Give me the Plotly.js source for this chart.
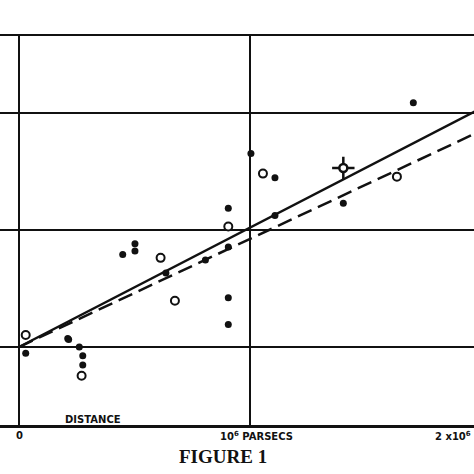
<!DOCTYPE html>
<html><head><meta charset="utf-8">
<script src="https://cdn.plot.ly/plotly-3.0.1.min.js"></script>
<style>html,body{margin:0;padding:0;background:#fff}#chart{width:474px;height:474px}</style>
</head><body><div id="chart"></div>
<script>
// Distance in units of 10^6 parsecs, velocity in km/s
const individualDist = [0.029,0.211,0.215,0.261,0.276,0.276,0.449,0.502,0.502,0.636,0.807,0.906,0.906,0.906,0.906,1.004,1.108,1.108,1.404,1.707];
const individualVel  = [-27,36,32,0,-37,-77,395,441,410,316,372,427,211,96,593,827,723,562,614,1044];
const groupDist = [0.029,0.271,0.613,0.675,0.906,1.056,1.636];
const groupVel  = [51,-123,381,198,515,741,728];
const meanDist = [1.404];
const meanVel  = [765];
const fitDist   = [0, 2];
const solidVel  = [0, 1020];
const dashedVel = [0, 924];
const gridVel   = [0, 500, 1000];
const gridDist  = [0, 1];
const xTickLabels = ["0", "10<sup>6</sup> PARSECS", "2 x10<sup>6</sup>"];
const axisLabel = "DISTANCE";
const figTitle = "FIGURE 1";

const ink = '#111';
const traces = [
  {x: fitDist, y: solidVel, mode: 'lines', line: {color: ink, width: 2.5}, hoverinfo: 'skip'},
  {x: fitDist, y: dashedVel, mode: 'lines', line: {color: ink, width: 2.5, dash: '15px,7px'}, hoverinfo: 'skip'},
  {x: individualDist, y: individualVel, mode: 'markers', marker: {color: ink, size: 7, symbol: 'circle'}},
  {x: groupDist, y: groupVel, mode: 'markers', marker: {color: '#fff', size: 8, symbol: 'circle', line: {color: ink, width: 2}}},
  {x: meanDist, y: meanVel, mode: 'markers', marker: {color: ink, size: 16, symbol: 'cross-thin-open', line: {color: ink, width: 2.5}}},
  {x: meanDist, y: meanVel, mode: 'markers', marker: {color: '#fff', size: 8, symbol: 'circle', line: {color: ink, width: 2.5}}}
];

const lblFont = {family: 'DejaVu Sans', size: 10, color: ink, weight: 'bold'};
const layout = {
  width: 474, height: 474,
  margin: {l: 0, r: 0, t: 36, b: 49, pad: 0},
  paper_bgcolor: '#fff', plot_bgcolor: '#fff',
  showlegend: false,
  xaxis: {range: [-0.08225, 1.9697], tickmode: 'array', tickvals: gridDist, showticklabels: false, ticks: '',
          showgrid: true, gridcolor: ink, gridwidth: 2, zeroline: false,
          showline: true, mirror: true, linecolor: ink, linewidth: 2.5, fixedrange: true},
  yaxis: {range: [-333.3, 1329.1], tickmode: 'array', tickvals: gridVel, showticklabels: false, ticks: '',
          showgrid: true, gridcolor: ink, gridwidth: 2, zeroline: false, showline: false, fixedrange: true},
  annotations: [
    {text: xTickLabels[0], xref: 'x', x: gridDist[0], yref: 'paper', y: -0.028, showarrow: false, font: lblFont, xanchor: 'center', yanchor: 'middle'},
    {text: xTickLabels[1], xref: 'x', x: gridDist[1], xshift: -32, yref: 'paper', y: -0.028, showarrow: false, font: lblFont, xanchor: 'left', yanchor: 'middle'},
    {text: xTickLabels[2], xref: 'paper', x: 1, xshift: -1, yref: 'paper', y: -0.028, showarrow: false, font: lblFont, xanchor: 'right', yanchor: 'middle'},
    {text: axisLabel, xref: 'x', x: 0.19, yref: 'paper', y: 0.014, showarrow: false, font: lblFont, xanchor: 'left', yanchor: 'middle'},
    {text: figTitle, xref: 'paper', x: 0.4705, yref: 'paper', y: -0.08, showarrow: false,
     font: {family: 'Liberation Serif', size: 19, color: ink, weight: 'bold'}, xanchor: 'center', yanchor: 'middle'}
  ]
};
Plotly.newPlot('chart', traces, layout, {staticPlot: true, displayModeBar: false});
</script>
</body></html>
